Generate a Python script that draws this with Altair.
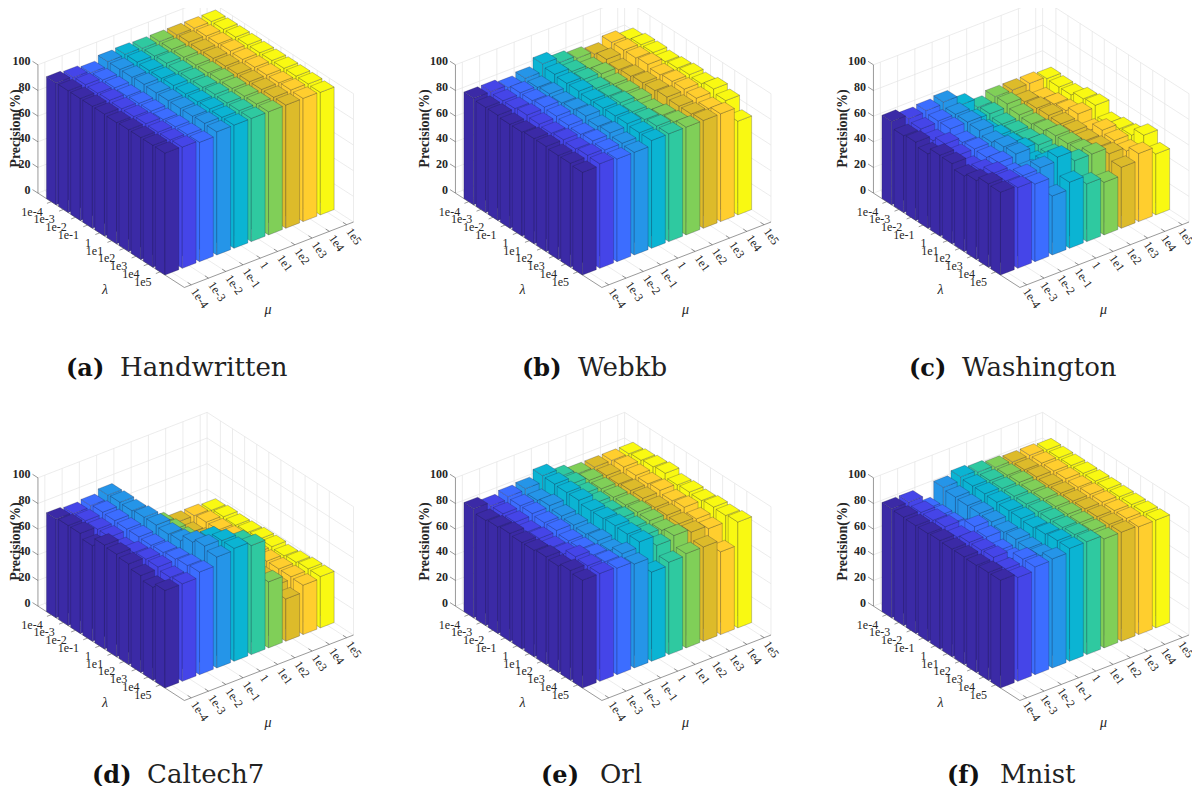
import altair as alt
import pandas as pd

LAMBDA_LABELS = ["1e-4", "1e-3", "1e-2", "1e-1", "1", "1e1", "1e2", "1e3", "1e4", "1e5"]
MU_LABELS = ["1e-4", "1e-3", "1e-2", "1e-1", "1", "1e1", "1e2", "1e3", "1e4", "1e5"]
Z_TICKS = [0, 20, 40, 60, 80, 100]
MU_COLORS = ["#3B2AA6", "#4545E8", "#3C6DFF", "#2595E8", "#0BB4D3",
             "#2FC9A0", "#80CF58", "#DDBB2A", "#FFCE2E", "#F9F912"]

# Each inner list is one mu column, running over lambda = 1e-4 ... 1e5
HANDWRITTEN = [
    [95, 95, 95, 95, 95, 94.5, 95, 95, 95, 95],
    [94, 94.5, 94, 94.5, 94, 94, 94.5, 94, 94, 94.5],
    [92.5, 93, 93, 92.5, 93, 93, 92.5, 93, 93, 93],
    [96, 96, 96, 96.5, 96, 96, 96, 96, 96.5, 96],
    [96.5, 96.5, 96, 96, 96.5, 96, 96, 96.5, 96, 96],
    [96, 96, 96.5, 96, 96, 96, 96.5, 96, 96, 96],
    [96, 96, 96, 96, 96, 96.5, 96, 96, 96, 96],
    [96, 96.5, 96, 96, 96, 96, 96, 96, 96, 96],
    [96, 96, 96, 96.5, 96, 96, 96, 96, 96.5, 96],
    [96, 96, 96, 96, 96, 96, 96, 96, 96, 95.5],
]
WEBKB = [
    [83, 82, 82, 81, 81, 82, 82, 81, 81, 80],
    [83, 82, 82, 83, 82, 81, 82, 81, 82, 81.5],
    [81, 83, 83, 84, 83, 82, 81, 82, 81, 80],
    [83, 82, 83, 82, 83, 84, 82, 83, 81, 80],
    [89, 87, 86, 86, 85, 85, 85, 85, 84, 84],
    [85, 84, 84, 83, 83, 84, 83, 83, 84, 84],
    [83, 81, 83, 81, 81, 81, 79, 81, 82, 84],
    [81, 83, 81, 82, 83, 83, 84, 83, 83, 84],
    [85, 85, 85, 86, 84, 85, 85, 84, 82, 84],
    [82, 84, 84, 83, 84, 85, 84, 86, 83, 73],
]
WASHINGTON = [
    [65, 60, 61, 58, 63, 62.5, 59, 61.5, 65, 64.5],
    [62, 60, 57, 60.5, 57.5, 54.5, 58, 62, 62, 63],
    [63, 61, 61, 56.5, 57.5, 57, 59, 56, 61, 60.5],
    [64.5, 61, 61, 60.5, 57.5, 60, 60.5, 53.5, 62, 46],
    [57, 51, 49, 51, 51, 53, 49, 55, 65, 51.5],
    [50, 51, 49, 49, 49, 51, 49, 51, 57, 45],
    [53, 53.5, 51, 50, 51, 53, 53, 53.5, 57, 41],
    [53, 50, 51, 51.5, 51, 51, 50, 51, 52, 47.5],
    [53, 47, 49, 50, 53.5, 47, 53, 51, 49, 53],
    [51.5, 51, 51, 54, 55, 47, 49, 50, 56, 47.5],
]
CALTECH7 = [
    [77, 78, 78, 74.5, 81, 80, 78.5, 75.5, 72.5, 76],
    [76, 76.5, 76, 76, 73, 76, 77, 77, 75, 76],
    [77, 78, 77.5, 77, 77, 76.5, 77, 78, 79, 80],
    [80, 80.5, 80, 81, 81, 80, 81, 86, 89, 86.5],
    [42, 42, 42, 42, 42, 42, 42, 84, 88, 88],
    [42, 42, 42, 42, 42, 42, 42, 42, 82, 85],
    [42, 43, 43, 42, 42, 42, 42, 42, 42, 51.5],
    [38, 35.5, 37, 37, 37, 37, 37, 37, 37, 33],
    [38, 39, 39, 39.5, 39, 39, 39, 39, 39, 38.5],
    [37, 38, 37.5, 38, 39, 39, 38, 39, 40, 40],
]
ORL = [
    [85, 82, 83, 84, 83, 83, 84, 83, 85.5, 84],
    [82, 82, 81.5, 80, 81, 80, 81, 85, 84, 84],
    [84, 83, 83, 82, 82, 80, 80, 81, 82, 83],
    [85, 82, 84, 82, 81, 80, 81, 79.5, 83, 81],
    [90, 89.5, 89, 89, 87, 87, 87.5, 87, 87, 69.5],
    [84, 84.5, 83, 82, 81, 82, 81, 81, 79, 72],
    [81, 82, 81.5, 81, 81, 81.5, 81, 79.5, 81.5, 73.5],
    [81, 80.5, 80, 81, 81, 80, 80, 79.5, 79, 73.5],
    [81, 82, 81.5, 81, 82, 80, 81, 78, 76.5, 64.5],
    [81, 82, 83, 84, 81, 81.5, 81, 82, 81.5, 82.5],
]
MNIST = [
    [85, 84.5, 84, 84, 84.5, 84, 84, 83.5, 84, 84],
    [85, 83, 83, 84, 82, 84, 84, 84.5, 81.5, 81],
    [74.5, 75, 75, 76, 85, 83, 78.5, 78, 84, 84],
    [86, 84.5, 84, 84, 83.5, 81.5, 82, 81, 81.5, 85],
    [89, 88, 88, 87.5, 87, 87, 86, 87, 88, 88],
    [87.5, 87, 87, 87, 87, 87, 87, 87, 87.5, 88],
    [86, 86, 86.5, 86, 86, 86, 86, 85.5, 85.5, 85],
    [85, 85, 85.5, 85, 85, 85, 85, 85, 85, 85],
    [85, 85, 85, 85, 84.5, 85, 85, 84.5, 84.5, 84],
    [84, 84, 84, 84, 84, 84, 84, 84, 84, 84],
]

PANELS = [
    ("(a)", "Handwritten", HANDWRITTEN, 0, 0, 66, 120),
    ("(b)", "Webkb", WEBKB, 1, 0, 522, 578),
    ("(c)", "Washington", WASHINGTON, 2, 0, 909, 962),
    ("(d)", "Caltech7", CALTECH7, 0, 1, 92, 147),
    ("(e)", "Orl", ORL, 1, 1, 541, 600),
    ("(f)", "Mnist", MNIST, 2, 1, 947, 1000),
]

# view geometry of the oblique 3-D projection (pixels per data unit)
OX, OY = 28.8, 197.9
LX, LY = 12.1, 7.8
MX, MY = 17.26, -6.68
ZS = 1.283
L_MIN, L_MAX, M_MIN, M_MAX = -0.1, 12.0, 0.6, 10.4
HALF = 0.4
COL_DX = [0, 417.5, 835.5]
ROW_DY = [0, 413]
CAPTION_BASE = [376, 783]
MU_LABEL_DX = [2.5, 2.5, -1.0]
SERIF = "Liberation Serif"
VIEW_W, VIEW_H = 1184, 778

xs = alt.Scale(domain=[8, 8 + VIEW_W], nice=False, zero=False)
ys = alt.Scale(domain=[8 + VIEW_H, 8], nice=False, zero=False)
X = alt.X("x:Q", scale=xs, axis=None)
Y = alt.Y("y:Q", scale=ys, axis=None)


def project(l, m, z, dx, dy):
    return OX + dx + LX * l + MX * m, OY + dy + LY * l + MY * m - ZS * z


def seg(rows, a, b, dx, dy):
    x, y = project(*a, dx, dy)
    x2, y2 = project(*b, dx, dy)
    rows.append({"x": x, "y": y, "x2": x2, "y2": y2})


grid, axes, polys, zt, lt, mt, ylabels, syms, caps_b, caps_n = [], [], [], [], [], [], [], [], [], []
pid = 0
for bold, name, values, col, row, bx, nx in PANELS:
    dx, dy = COL_DX[col], ROW_DY[row]
    for z in Z_TICKS:
        seg(grid, (L_MIN, M_MIN, z), (L_MIN, M_MAX, z), dx, dy)
        seg(grid, (L_MIN, M_MAX, z), (L_MAX, M_MAX, z), dx, dy)
        seg(axes, (L_MIN, M_MIN, z), (L_MIN - 0.45, M_MIN, z), dx, dy)
        x, y = project(L_MIN, M_MIN, z, dx, dy)
        zt.append({"x": x - 7.5, "y": y - 3.5, "t": str(z)})
    for i in range(1, 11):
        seg(grid, (L_MIN, i, 0), (L_MIN, i, 100), dx, dy)
        seg(grid, (i, M_MAX, 0), (i, M_MAX, 100), dx, dy)
        seg(grid, (i, M_MIN, 0), (i, M_MAX, 0), dx, dy)
        seg(grid, (L_MIN, i, 0), (L_MAX, i, 0), dx, dy)
        seg(axes, (i, M_MIN, 0), (i, M_MIN - 0.25, 0), dx, dy)
        seg(axes, (L_MAX, i, 0), (L_MAX - 0.3, i, 0), dx, dy)
        x, y = project(i, M_MIN, 0, dx, dy)
        lt.append({"x": x - 8.6, "y": y + 10, "t": LAMBDA_LABELS[i - 1]})
        x, y = project(L_MAX, i, 0, dx, dy)
        mt.append({"x": x + MU_LABEL_DX[col], "y": y + 4.5, "t": MU_LABELS[i - 1]})
    seg(grid, (L_MIN, M_MAX, 0), (L_MIN, M_MAX, 100), dx, dy)
    seg(grid, (L_MAX, M_MAX, 0), (L_MAX, M_MAX, 100), dx, dy)
    seg(axes, (L_MIN, M_MIN, 0), (L_MIN, M_MIN, 100), dx, dy)
    seg(axes, (L_MIN, M_MIN, 0), (L_MAX, M_MIN, 0), dx, dy)
    seg(axes, (L_MAX, M_MIN, 0), (L_MAX, M_MAX, 0), dx, dy)

    for l in range(1, 11):
        for m in range(10, 0, -1):
            z = values[m - 1][l - 1]
            lo_l, hi_l, lo_m, hi_m = l - HALF, l + HALF, m - HALF, m + HALF
            faces = [
                [(lo_l, lo_m, 0), (hi_l, lo_m, 0), (hi_l, lo_m, z), (lo_l, lo_m, z)],
                [(hi_l, lo_m, 0), (hi_l, hi_m, 0), (hi_l, hi_m, z), (hi_l, lo_m, z)],
                [(lo_l, lo_m, z), (hi_l, lo_m, z), (hi_l, hi_m, z), (lo_l, hi_m, z)],
            ]
            for face in faces:
                pid += 1
                for k, p in enumerate(face):
                    x, y = project(*p, dx, dy)
                    polys.append({"x": x, "y": y, "poly": pid, "k": k, "c": MU_COLORS[m - 1]})

    ylabels.append({"x": 16 if col == 0 else 7 + dx, "y": 128.5 + dy, "t": "Precision(%)"})
    syms.append({"x": 105 + dx, "y": 290 + dy, "t": "\u03bb"})
    syms.append({"x": 268 + dx, "y": 310 + dy, "t": "\u03bc"})
    caps_b.append({"x": bx, "y": CAPTION_BASE[row], "t": bold})
    caps_n.append({"x": nx, "y": CAPTION_BASE[row], "t": name})


def texts(rows, font=SERIF, color="#262626", **kw):
    return alt.Chart(pd.DataFrame(rows)).mark_text(font=font, color=color, **kw).encode(x=X, y=Y, text="t:N")


layers = [
    alt.Chart(pd.DataFrame(grid)).mark_rule(color="#e4e4e4", strokeWidth=0.7, clip=True).encode(
        x=X, y=Y, x2="x2:Q", y2="y2:Q"),
    alt.Chart(pd.DataFrame(axes)).mark_rule(color="#555555", strokeWidth=0.6, clip=True).encode(
        x=X, y=Y, x2="x2:Q", y2="y2:Q"),
    alt.Chart(pd.DataFrame(polys)).mark_line(
        filled=True, interpolate="linear-closed", stroke="#1c1c3a", strokeWidth=0.5, strokeOpacity=0.5
    ).encode(x=X, y=Y, detail="poly:N", order="k:Q", fill=alt.Fill("c:N", scale=None, legend=None)),
    texts(zt, fontSize=12, fontWeight="bold", align="right", baseline="middle"),
    texts(lt, fontSize=12, align="right", baseline="middle"),
    texts(mt, fontSize=12, align="left", baseline="middle", angle=55),
    texts(ylabels, fontSize=14, fontWeight="bold", angle=270, align="center", baseline="middle"),
    texts(syms, fontSize=14, fontStyle="italic", align="center", baseline="middle"),
    texts(caps_b, font="DejaVu Serif", color="#111111", fontWeight="bold", fontSize=24,
          align="left", baseline="alphabetic"),
    texts(caps_n, font="DejaVu Serif", color="#222222", fontSize=26, align="left", baseline="alphabetic"),
]

chart = alt.layer(*layers).properties(
    width=VIEW_W, height=VIEW_H, padding=0, background="white",
    autosize=alt.AutoSizeParams(type="none"),
).configure_view(stroke=None)

chart.save("out.html", embed_options={"renderer": "svg", "actions": False})
